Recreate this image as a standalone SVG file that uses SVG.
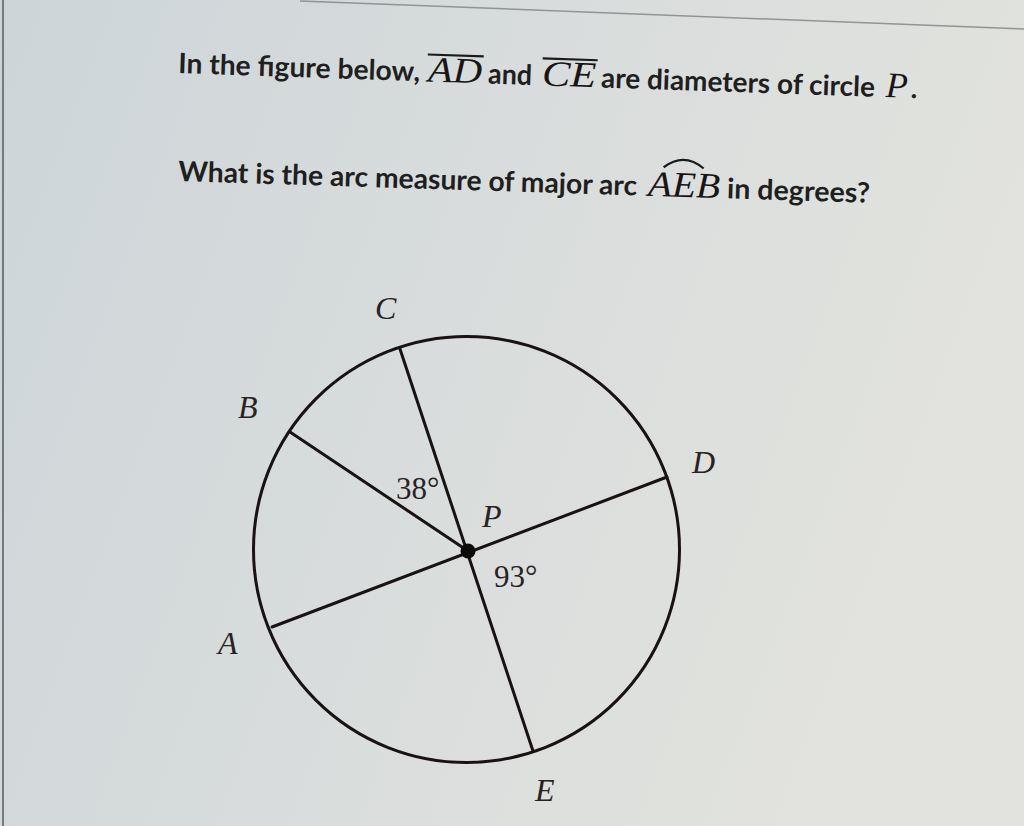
<svg xmlns="http://www.w3.org/2000/svg" width="1024" height="826" viewBox="0 0 1024 826">
<defs>
<linearGradient id="bg" x1="0" y1="0" x2="1" y2="0.3">
<stop offset="0" stop-color="#cdd5d9"/>
<stop offset="0.5" stop-color="#d8dcdc"/>
<stop offset="1" stop-color="#e2e3de"/>
</linearGradient>
</defs>
<style>
.t{font-family:Lato,"Open Sans",sans-serif;font-size:28px;font-weight:bold;fill:#1f1f1f;}
.m{font-family:"Liberation Serif","DejaVu Serif",serif;font-style:italic;font-size:36px;fill:#1a1515;}
.lbl{font-family:"Liberation Serif","DejaVu Serif",serif;font-style:italic;font-size:32px;fill:#2a2222;}
.num{font-family:"Liberation Serif","DejaVu Serif",serif;font-size:31px;fill:#2a2222;}
.ln{stroke:#1a1212;stroke-width:3;fill:none;stroke-linecap:round;}
.ov{stroke:#1a1a1a;stroke-width:2.2;fill:none;}
</style>
<rect width="1024" height="826" fill="url(#bg)"/>
<line x1="300" y1="1" x2="1024" y2="29" stroke="#8f9595" stroke-width="1.5"/>
<line x1="3" y1="0" x2="3" y2="826" stroke="#555b5e" stroke-width="1.5"/>

<g id="question" transform="rotate(1.95 178 73)">
<text class="t" x="178" y="73" textLength="242" lengthAdjust="spacingAndGlyphs">In the figure below,</text>
<text class="m" x="428" y="73" textLength="54" lengthAdjust="spacingAndGlyphs">AD</text>
<line class="ov" x1="427" y1="46" x2="483" y2="46"/>
<text class="t" x="488" y="73" textLength="44" lengthAdjust="spacingAndGlyphs">and</text>
<text class="m" x="542" y="73" textLength="54" lengthAdjust="spacingAndGlyphs">CE</text>
<line class="ov" x1="542" y1="46" x2="597" y2="46"/>
<text class="t" x="601" y="73" textLength="274" lengthAdjust="spacingAndGlyphs">are diameters of circle</text>
<text class="m" x="886" y="73">P</text>
<text class="t" x="911" y="73">.</text>
</g>
<g id="question2" transform="rotate(1.8 178 181)">
<text class="t" x="178" y="181" textLength="459" lengthAdjust="spacingAndGlyphs">What is the arc measure of major arc</text>
<text class="m" x="648" y="181" textLength="72" lengthAdjust="spacingAndGlyphs">AEB</text>
<path class="ov" d="M663 152 Q683 136 703 152"/>
<text class="t" x="727" y="181" textLength="143" lengthAdjust="spacingAndGlyphs">in degrees?</text>
</g>

<g id="circle">
<circle cx="466.5" cy="549.5" r="213" class="ln"/>
</g>
<g id="connectors">
<line class="ln" x1="400" y1="349" x2="533" y2="751"/>
<line class="ln" x1="272" y1="627" x2="667" y2="477"/>
<line class="ln" x1="290" y1="432" x2="468" y2="551"/>
</g>
<g id="P">
<circle cx="468" cy="551" r="7.5" fill="#0d0a0a"/>
<text class="lbl" x="482" y="527">P</text>
</g>
<g id="C"><text class="lbl" x="375" y="319">C</text></g>
<g id="B"><text class="lbl" x="238" y="418">B</text></g>
<g id="D"><text class="lbl" x="692" y="473">D</text></g>
<g id="A"><text class="lbl" x="218" y="654">A</text></g>
<g id="E"><text class="lbl" x="535" y="801">E</text></g>
<g id="angle38"><text class="num" x="396" y="499">38°</text></g>
<g id="angle93"><text class="num" x="494" y="587">93°</text></g>
</svg>
